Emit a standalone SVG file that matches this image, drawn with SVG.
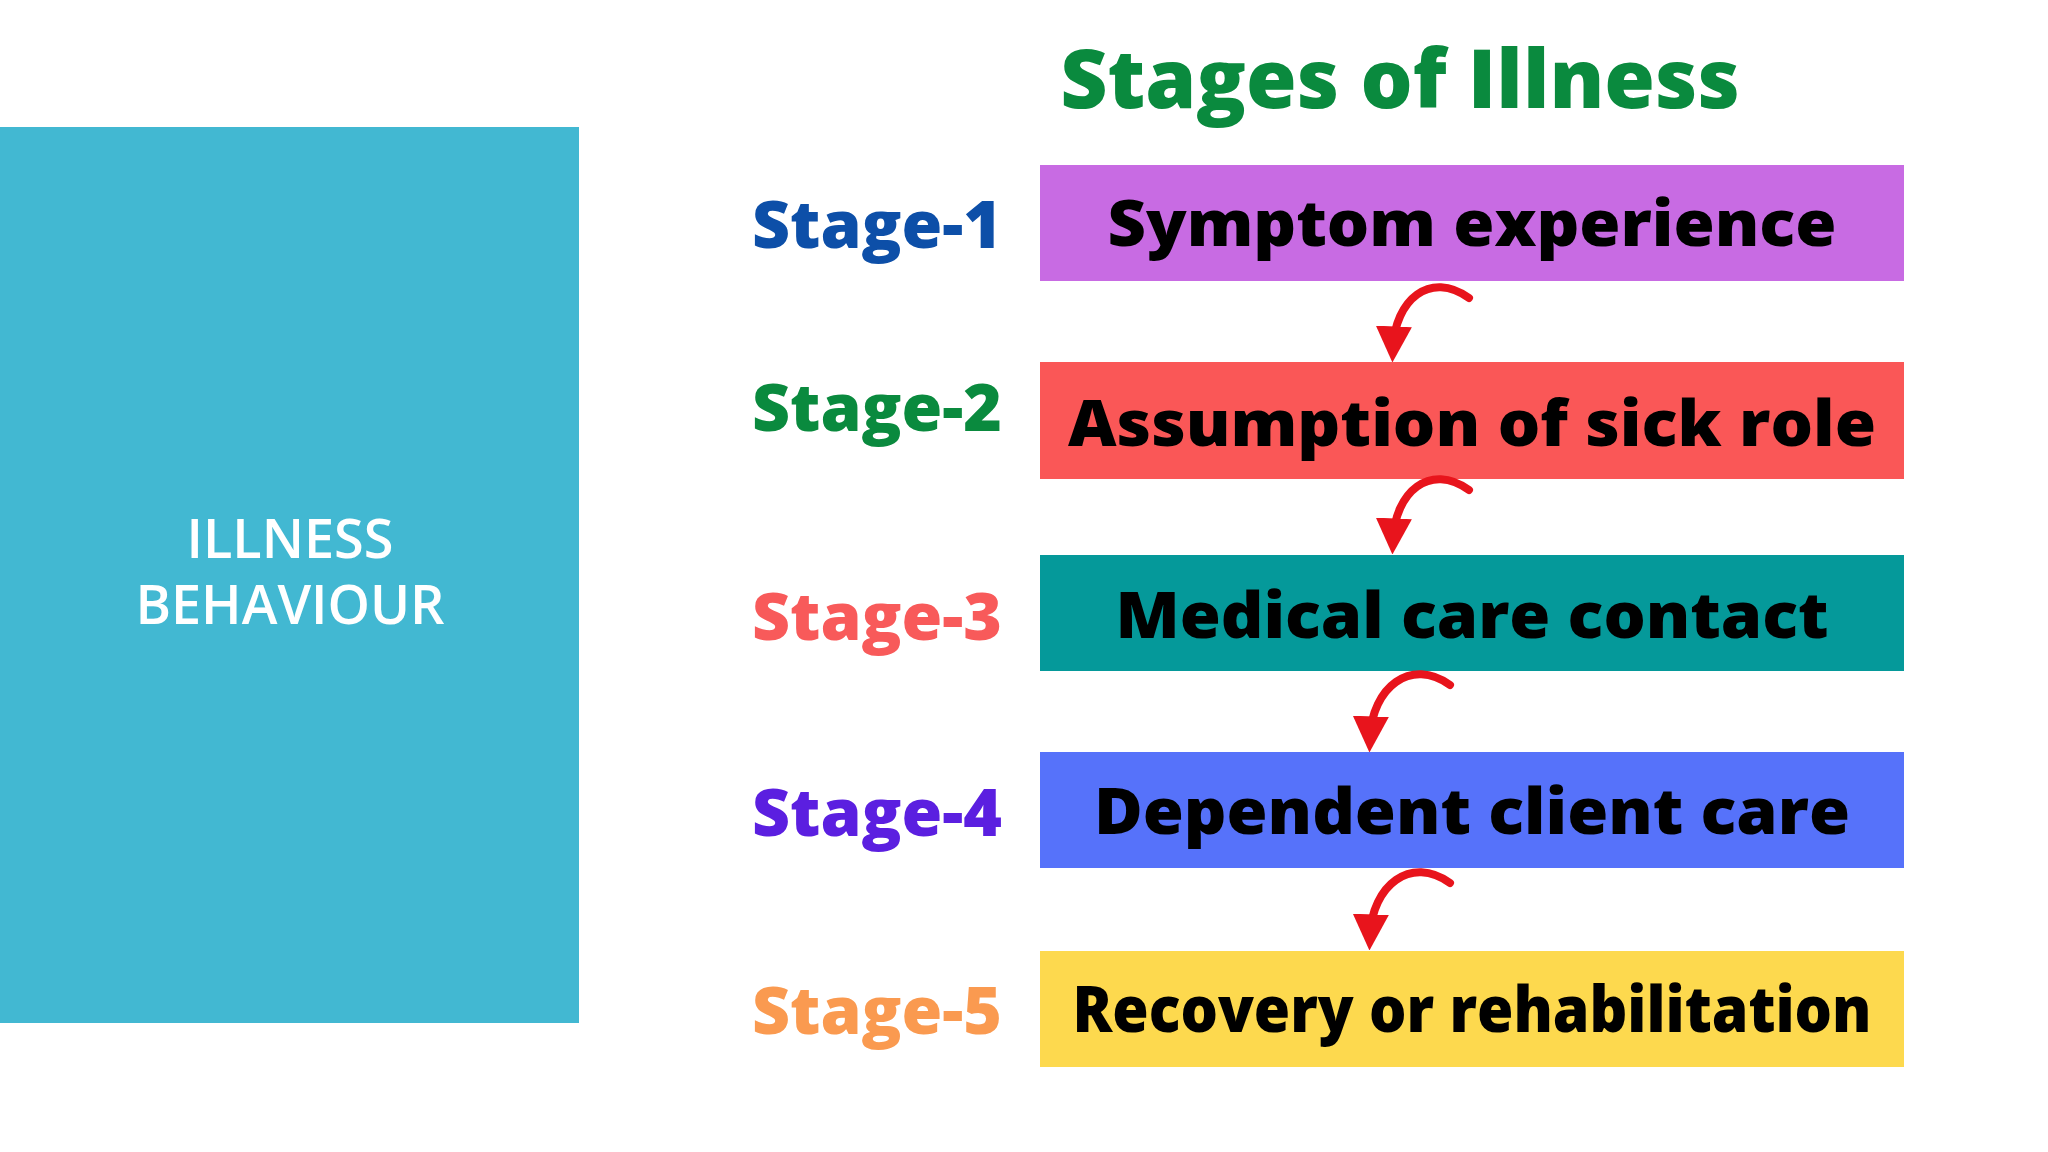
<svg xmlns="http://www.w3.org/2000/svg" width="2048" height="1152" viewBox="0 0 2048 1152">
<style>
.st{font-family:"Open Sans",sans-serif;font-weight:800;font-size:66px;text-anchor:end}
.bt{font-family:"Open Sans",sans-serif;font-weight:800;font-size:64px;text-anchor:middle;fill:#000}
.ar{fill:none;stroke:#E8141C;stroke-width:8;stroke-linecap:round}
</style>
<defs><marker id="ah" viewBox="0 0 10 10" refX="6" refY="5" markerWidth="4.5" markerHeight="4.5" orient="auto"><path d="M0,0 L10,5 L0,10 z" fill="#E8141C"/></marker></defs>
<rect width="2048" height="1152" fill="#fff"/>
<g id="illness"><rect x="0" y="127" width="579" height="896" fill="#42B8D2"/>
<text font-family="Open Sans,sans-serif" font-weight="600" font-size="54" fill="#fff" text-anchor="middle"><tspan x="290" y="558">ILLNESS</tspan><tspan x="290" y="624">BEHAVIOUR</tspan></text></g>
<text x="1400" y="108" font-family="Open Sans,sans-serif" font-weight="800" font-size="82" fill="#0A8A3E" text-anchor="middle">Stages of Illness</text>
<g id="s1"><text class="st" x="1002" y="248" fill="#0D4FA8">Stage-1</text><rect x="1040" y="165" width="864" height="116" fill="#C86BE3"/><text class="bt" x="1472" y="246" textLength="729" lengthAdjust="spacingAndGlyphs">Symptom experience</text></g>
<g id="s2"><text class="st" x="1002" y="431" fill="#0A8A3E">Stage-2</text><rect x="1040" y="362" width="864" height="117" fill="#FA5757"/><text class="bt" x="1472" y="446" textLength="808" lengthAdjust="spacingAndGlyphs">Assumption of sick role</text></g>
<g id="s3"><text class="st" x="1002" y="640" fill="#F85A5A">Stage-3</text><rect x="1040" y="555" width="864" height="116" fill="#05999A"/><text class="bt" x="1472" y="638" textLength="713" lengthAdjust="spacingAndGlyphs">Medical care contact</text></g>
<g id="s4"><text class="st" x="1002" y="836" fill="#5B1FE0">Stage-4</text><rect x="1040" y="752" width="864" height="116" fill="#5672FA"/><text class="bt" x="1472" y="834" textLength="756" lengthAdjust="spacingAndGlyphs">Dependent client care</text></g>
<g id="s5"><text class="st" x="1002" y="1034" fill="#FA9A50">Stage-5</text><rect x="1040" y="951" width="864" height="116" fill="#FDD94E"/><text class="bt" x="1472" y="1032" textLength="799" lengthAdjust="spacingAndGlyphs">Recovery or rehabilitation</text></g>
<g id="connectors">
<path class="ar" marker-end="url(#ah)" d="M1469,298 C1430,270 1395,300 1393,348"/>
<path class="ar" marker-end="url(#ah)" d="M1469,490 C1430,462 1395,492 1393,540"/>
<path class="ar" marker-end="url(#ah)" d="M1450,685 C1411,657 1372,687 1370,738"/>
<path class="ar" marker-end="url(#ah)" d="M1450,883 C1411,855 1372,885 1370,936"/>
</g>
</svg>
